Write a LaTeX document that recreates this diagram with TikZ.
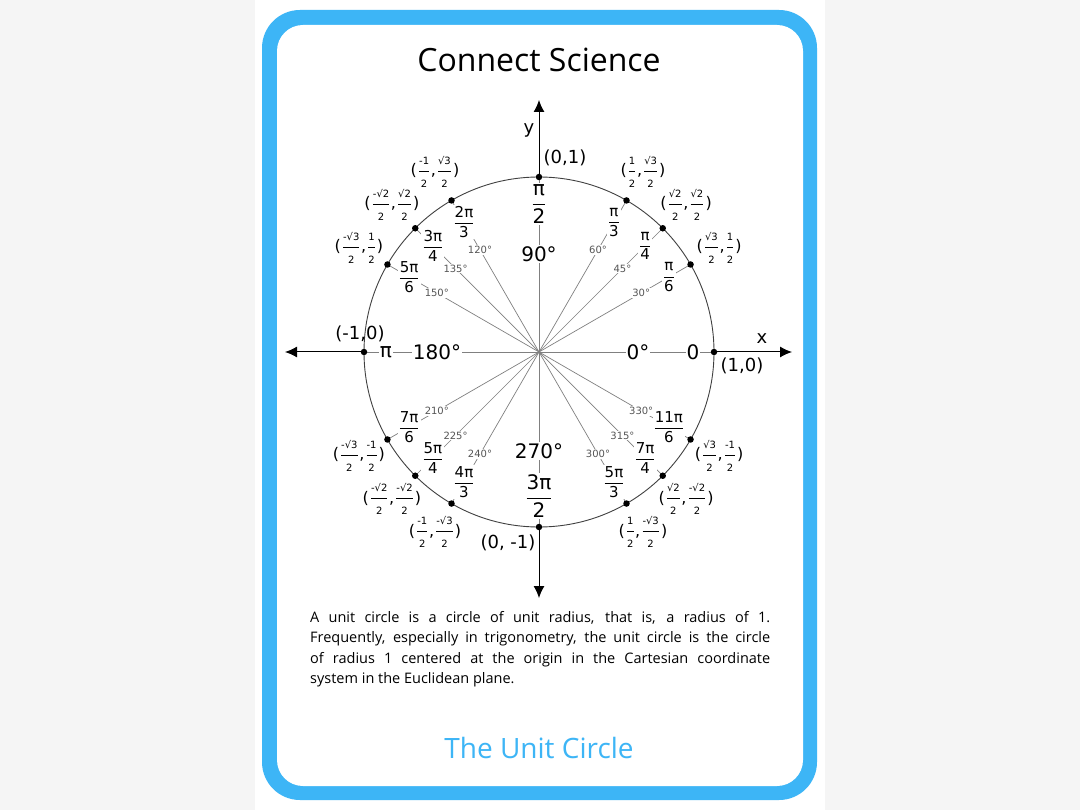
\documentclass[tikz,border=0pt]{standalone}
\usepackage{fontspec}
\usepackage{amsmath}
\usetikzlibrary{arrows.meta}
\setmainfont{DejaVu Sans}
\newfontfamily\titlefont{Open Sans}
\definecolor{cardblue}{HTML}{3DB5F6}
\definecolor{deggray}{HTML}{555555}
\newcommand\fr[2]{$\genfrac{}{}{0.8pt}{0}{\hbox{#1}}{\hbox{#2}}$}
\newcommand\sfr[2]{$\genfrac{}{}{0.6pt}{0}{\hbox{\fontsize{10}{10}\selectfont #1}}{\hbox{\fontsize{10}{10}\selectfont #2}}$}
\newcommand\crd[2]{(\kern1pt\sfr{#1}{2}\kern0.5pt,\kern1pt\sfr{#2}{2}\kern1pt)}
\begin{document}
\begin{tikzpicture}[x=1pt,y=-1pt,
  fraclab/.style={fill=white,inner sep=1pt,font=\fontsize{15}{15}\selectfont},
  deglab/.style={fill=white,inner sep=1pt,text=deggray,font=\fontsize{10}{10}\selectfont},
  bigdeg/.style={fill=white,inner sep=1pt,font=\fontsize{20}{20}\selectfont},
  crdlab/.style={inner sep=0pt,font=\fontsize{16}{16}\selectfont},
  ray/.style={draw=gray,line width=0.7pt},
  axis/.style={line width=1pt,-{Latex[length=12pt,width=11pt]}},
  dot/.style={circle,fill=black,inner sep=0pt,minimum size=6.5pt}]
\useasboundingbox (0,0) rectangle (1080,810);
\fill[gray!8] (0,0) rectangle (1080,810);
\fill[white] (255,0) rectangle (825,810);
\fill[cardblue,rounded corners=38pt] (262,10) rectangle (817,800);
\fill[white,rounded corners=26pt] (277,25) rectangle (803,786);
\node[font=\titlefont\fontsize{32}{32}\selectfont] (title) at (539,60) {Connect Science};
\coordinate (O) at (539,352);
% rays
\foreach \a in {30,45,60,120,135,150,210,225,240,300,315,330}{
  \draw[ray] (O) -- ({539+175*cos(\a)},{352-175*sin(\a)});
}
\draw[ray] (364,352) -- (714,352);
\draw[ray] (539,177) -- (539,527);
\draw[line width=0.9pt,black!75] (O) circle (175);
% axes
\coordinate (xl) at (285,352); \coordinate (xr) at (792,352);
\coordinate (yt) at (539,100); \coordinate (yb) at (539,598);
\draw[axis] (364,352) -- (xl);
\draw[axis] (714,352) -- (xr);
\draw[axis] (539,177) -- (yt);
\draw[axis] (539,527) -- (yb);
\node[font=\fontsize{18}{18}\selectfont] (xlab) at (762,339) {x};
\node[font=\fontsize{18}{18}\selectfont] (ylab) at (529,130) {y};
% diagonal labels
\foreach \a/\n/\d/\cx/\cy in {30/π/6/√3/1, 45/π/4/√2/√2, 60/π/3/1/√3,
  120/2π/3/-1/√3, 135/3π/4/-√2/√2, 150/5π/6/-√3/1,
  210/7π/6/-√3/-1, 225/5π/4/-√2/-√2, 240/4π/3/-1/-√3,
  300/5π/3/1/-√3, 315/7π/4/√2/-√2, 330/11π/6/√3/-1}{
  \node[deglab] (d\a) at ({539+118*cos(\a)},{352-118*sin(\a)}) {\a°};
  \node[fraclab] (f\a) at ({539+150*cos(\a)},{352-150*sin(\a)}) {\fr{\n}{\d}};
  \node[dot] (p\a) at ({539+175*cos(\a)},{352-175*sin(\a)}) {};
  \node[crdlab] (c\a) at ({539+208*cos(\a)},{352-208*sin(\a)}) {\crd{\cx}{\cy}};
}
% axis angle labels
\node[bigdeg] (d90) at (539,254) {90°};
\node[fraclab,font=\fontsize{20}{20}\selectfont] (f90) at (539,204) {\fr{π}{2}};
\node[bigdeg] (d270) at (539,451) {270°};
\node[fraclab,font=\fontsize{20}{20}\selectfont] (f270) at (539,496) {\fr{3π}{2}};
\node[bigdeg] (d0) at (638,352) {0°};
\node[bigdeg] (f0) at (693,352) {0};
\node[bigdeg] (d180) at (437,352) {180°};
\node[bigdeg] (f180) at (386,352) {π};
\node[dot] (p0) at (714,352) {};
\node[dot] (p90) at (539,177) {};
\node[dot] (p180) at (364,352) {};
\node[dot] (p270) at (539,527) {};
\node[font=\fontsize{18}{18}\selectfont] (c0) at (742,366) {(1,0)};
\node[font=\fontsize{18}{18}\selectfont] (c90) at (565,158) {(0,1)};
\node[font=\fontsize{18}{18}\selectfont] (c180) at (360,334) {(-1,0)};
\node[font=\fontsize{18}{18}\selectfont] (c270) at (508,543) {(0, -1)};
% text
\node[text width=460pt,align=justify,font=\titlefont\fontsize{14.5}{20.5}\selectfont,anchor=north west,inner sep=0pt] (body) at (310,611)
{\hyphenpenalty=10000 A unit circle is a circle of unit radius, that is, a radius of 1.\linebreak Frequently, especially in trigonometry, the unit circle is the circle\linebreak of radius 1 centered at the origin in the Cartesian coordinate\linebreak system in the Euclidean plane.};
\node[text=cardblue,font=\titlefont\fontsize{28}{28}\selectfont] (foot) at (539,748) {The Unit Circle};
\end{tikzpicture}
\end{document}
